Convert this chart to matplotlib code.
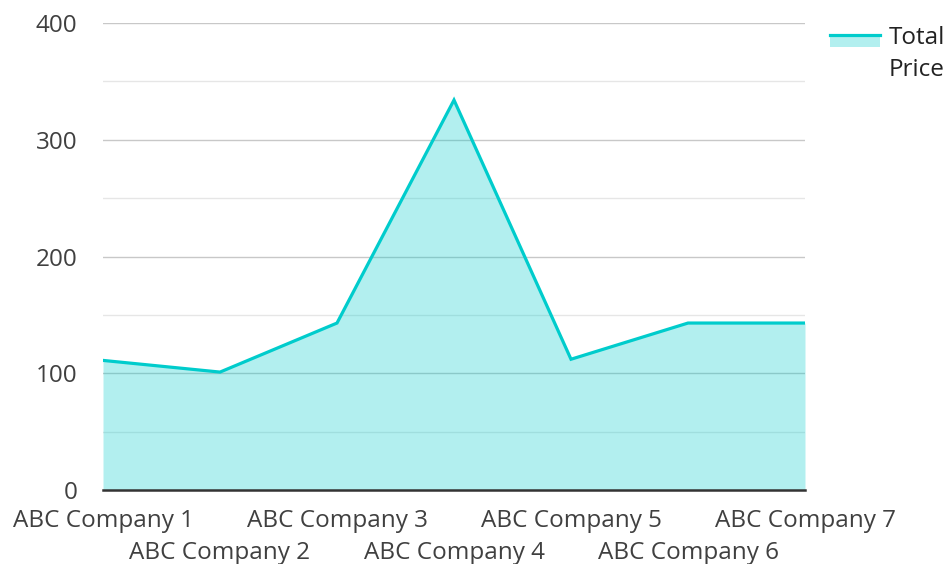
import matplotlib.pyplot as plt
from matplotlib.lines import Line2D
from matplotlib.patches import Rectangle

plt.rcParams['font.family'] = ['Open Sans', 'DejaVu Sans']

companies = ["ABC Company 1", "ABC Company 2", "ABC Company 3", "ABC Company 4",
             "ABC Company 5", "ABC Company 6", "ABC Company 7"]
total_price = [111, 101, 143, 334, 112, 143, 143]
y_ticks = [0, 100, 200, 300, 400]
y_minor = [50, 150, 250, 350]

line_col = "#00cccc"
text_col = "#404040"
fs = 17.5

fig = plt.figure(figsize=(9.47, 5.64), dpi=100)
ax = fig.add_axes([103 / 947, 1 - 490 / 564, 702 / 947, 467 / 564])

x = list(range(len(companies)))
ax.fill_between(x, total_price, 0, color=line_col, alpha=0.3, lw=0, zorder=2)
ax.plot(x, total_price, color=line_col, lw=2.3, zorder=3, solid_joinstyle='miter')

ax.set_xlim(0, len(companies) - 1)
ax.set_ylim(0, 400)

# gridlines sit under the translucent fill
for v in y_ticks[1:]:
    ax.axhline(v, color="#c8c8c8", lw=1.0, zorder=1)
for v in y_minor:
    ax.axhline(v, color="#e6e6e6", lw=1.0, zorder=1)
ax.axhline(0, color="#333333", lw=1.8, zorder=4, clip_on=False)

for s in ax.spines.values():
    s.set_visible(False)

ax.set_yticks(y_ticks)
ax.set_yticklabels([str(v) for v in y_ticks])
ax.tick_params(axis='y', length=0, pad=18.5, labelsize=fs, labelcolor=text_col)

# alternate category labels on two rows
ax.set_xticks(x[::2])
ax.set_xticklabels(companies[::2])
ax.set_xticks(x[1::2], minor=True)
ax.set_xticklabels(companies[1::2], minor=True)
ax.tick_params(axis='x', which='major', length=0, pad=13.5, labelsize=fs, labelcolor=text_col)
ax.tick_params(axis='x', which='minor', length=0, pad=37, labelsize=fs, labelcolor=text_col)

# legend drawn in figure pixels
W, H = 947, 564
fig.patches.append(Rectangle((830 / W, 1 - 47 / H), 50 / W, 13 / H, transform=fig.transFigure,
                             facecolor=line_col, alpha=0.3, lw=0))
fig.lines.append(Line2D([830 / W, 880 / W], [1 - 35 / H, 1 - 35 / H], transform=fig.transFigure,
                        color=line_col, lw=2.3))
fig.text(889 / W, 1 - 26 / H, "Total\nPrice", ha='left', va='top', fontsize=fs,
         color="#222222", linespacing=1.45, transform=fig.transFigure)

fig.savefig("out.png", dpi=100)
